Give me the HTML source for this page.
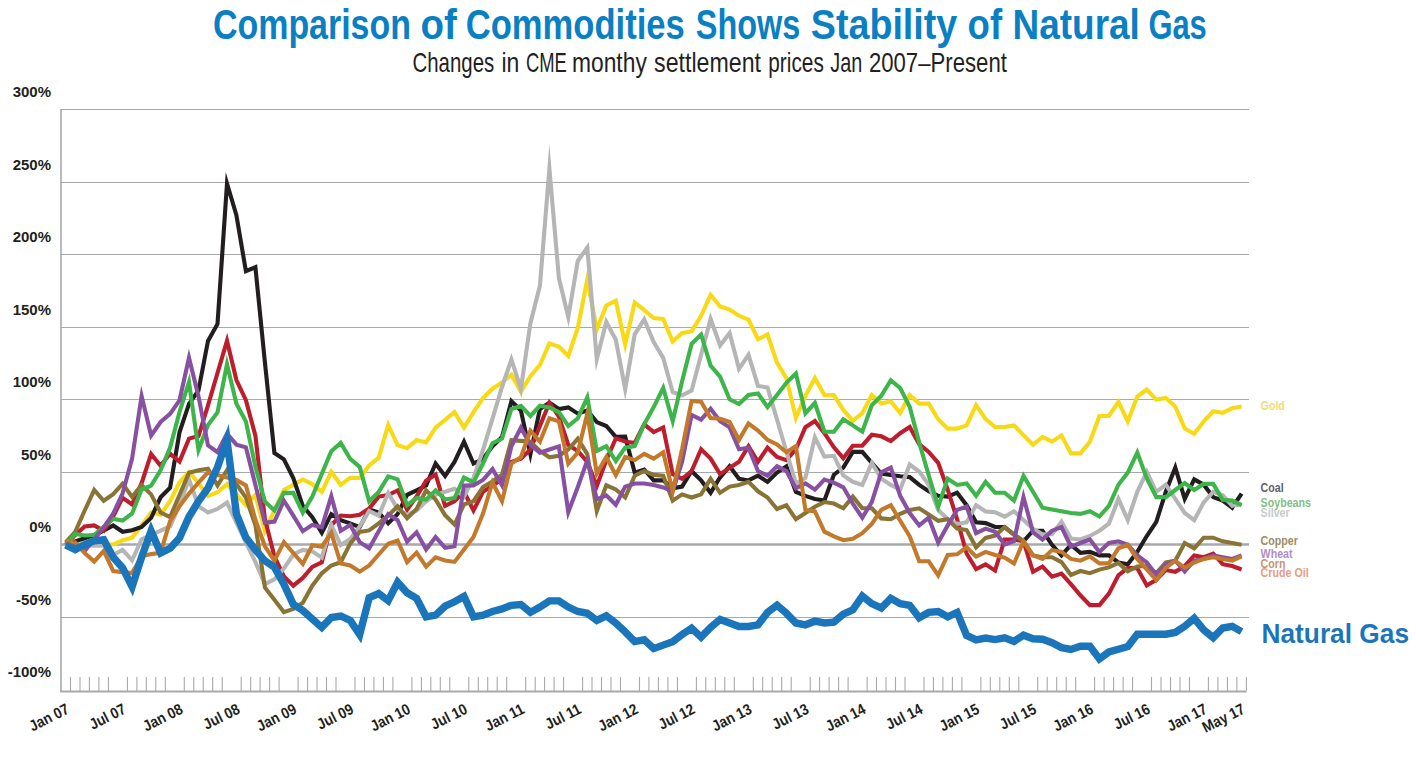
<!DOCTYPE html>
<html><head><meta charset="utf-8"><style>
html,body{margin:0;padding:0;background:#fff;width:1416px;height:764px;overflow:hidden}
svg{display:block}
.yl{font-family:"Liberation Sans",sans-serif;font-weight:bold;font-size:15px;fill:#231f20}
.xl{font-family:"Liberation Sans",sans-serif;font-weight:bold;font-size:15.5px;fill:#231f20}
.lg{font-family:"Liberation Sans",sans-serif;font-weight:bold;font-size:12px}
.t1{font-family:"Liberation Sans",sans-serif;font-weight:bold;font-size:42px;fill:#0a7fc3}
.t2{font-family:"Liberation Sans",sans-serif;font-size:28px;fill:#231f20}
.ng{font-family:"Liberation Sans",sans-serif;font-weight:bold;font-size:27.5px;fill:#1b75bb}
</style></head><body>
<svg width="1416" height="764" viewBox="0 0 1416 764">
<text x="213.0" y="38.7" class="t1" textLength="197.9" lengthAdjust="spacingAndGlyphs">Comparison</text><text x="420.5" y="38.7" class="t1" textLength="36.3" lengthAdjust="spacingAndGlyphs">of</text><text x="465.7" y="38.7" class="t1" textLength="219.1" lengthAdjust="spacingAndGlyphs">Commodities</text><text x="695.8" y="38.7" class="t1" textLength="104.6" lengthAdjust="spacingAndGlyphs">Shows</text><text x="810.8" y="38.7" class="t1" textLength="146.5" lengthAdjust="spacingAndGlyphs">Stability</text><text x="967.6" y="38.7" class="t1" textLength="34.5" lengthAdjust="spacingAndGlyphs">of</text><text x="1012.6" y="38.7" class="t1" textLength="127.2" lengthAdjust="spacingAndGlyphs">Natural</text><text x="1148.4" y="38.7" class="t1" textLength="58.4" lengthAdjust="spacingAndGlyphs">Gas</text>
<text x="412.5" y="71.5" class="t2" textLength="81.7" lengthAdjust="spacingAndGlyphs">Changes</text><text x="501.5" y="71.5" class="t2" textLength="17.9" lengthAdjust="spacingAndGlyphs">in</text><text x="526.0" y="71.5" class="t2" textLength="40.9" lengthAdjust="spacingAndGlyphs">CME</text><text x="572.0" y="71.5" class="t2" textLength="74.8" lengthAdjust="spacingAndGlyphs">monthy</text><text x="654.1" y="71.5" class="t2" textLength="106.9" lengthAdjust="spacingAndGlyphs">settlement</text><text x="768.3" y="71.5" class="t2" textLength="55.5" lengthAdjust="spacingAndGlyphs">prices</text><text x="830.3" y="71.5" class="t2" textLength="32.0" lengthAdjust="spacingAndGlyphs">Jan</text><text x="868.9" y="71.5" class="t2" textLength="138.0" lengthAdjust="spacingAndGlyphs">2007&#8211;Present</text>
<line x1="61" y1="109.5" x2="1249" y2="109.5" stroke="#a7a9ac" stroke-width="1.2"/><line x1="61" y1="182.5" x2="1249" y2="182.5" stroke="#a7a9ac" stroke-width="1.2"/><line x1="61" y1="254.5" x2="1249" y2="254.5" stroke="#a7a9ac" stroke-width="1.2"/><line x1="61" y1="327.5" x2="1249" y2="327.5" stroke="#a7a9ac" stroke-width="1.2"/><line x1="61" y1="399.5" x2="1249" y2="399.5" stroke="#a7a9ac" stroke-width="1.2"/><line x1="61" y1="472.5" x2="1249" y2="472.5" stroke="#a7a9ac" stroke-width="1.2"/><line x1="61" y1="617.5" x2="1249" y2="617.5" stroke="#a7a9ac" stroke-width="1.2"/>
<line x1="61" y1="544.5" x2="1249" y2="544.5" stroke="#a7a9ac" stroke-width="2.6"/>
<line x1="70.5" y1="677" x2="70.5" y2="691" stroke="#a7a9ac" stroke-width="1.1"/><line x1="80.0" y1="677" x2="80.0" y2="691" stroke="#a7a9ac" stroke-width="1.1"/><line x1="89.4" y1="677" x2="89.4" y2="691" stroke="#a7a9ac" stroke-width="1.1"/><line x1="98.9" y1="677" x2="98.9" y2="691" stroke="#a7a9ac" stroke-width="1.1"/><line x1="108.4" y1="677" x2="108.4" y2="691" stroke="#a7a9ac" stroke-width="1.1"/><line x1="127.4" y1="677" x2="127.4" y2="691" stroke="#a7a9ac" stroke-width="1.1"/><line x1="136.9" y1="677" x2="136.9" y2="691" stroke="#a7a9ac" stroke-width="1.1"/><line x1="146.3" y1="677" x2="146.3" y2="691" stroke="#a7a9ac" stroke-width="1.1"/><line x1="155.8" y1="677" x2="155.8" y2="691" stroke="#a7a9ac" stroke-width="1.1"/><line x1="165.3" y1="677" x2="165.3" y2="691" stroke="#a7a9ac" stroke-width="1.1"/><line x1="184.3" y1="677" x2="184.3" y2="691" stroke="#a7a9ac" stroke-width="1.1"/><line x1="193.8" y1="677" x2="193.8" y2="691" stroke="#a7a9ac" stroke-width="1.1"/><line x1="203.2" y1="677" x2="203.2" y2="691" stroke="#a7a9ac" stroke-width="1.1"/><line x1="212.7" y1="677" x2="212.7" y2="691" stroke="#a7a9ac" stroke-width="1.1"/><line x1="222.2" y1="677" x2="222.2" y2="691" stroke="#a7a9ac" stroke-width="1.1"/><line x1="241.2" y1="677" x2="241.2" y2="691" stroke="#a7a9ac" stroke-width="1.1"/><line x1="250.7" y1="677" x2="250.7" y2="691" stroke="#a7a9ac" stroke-width="1.1"/><line x1="260.1" y1="677" x2="260.1" y2="691" stroke="#a7a9ac" stroke-width="1.1"/><line x1="269.6" y1="677" x2="269.6" y2="691" stroke="#a7a9ac" stroke-width="1.1"/><line x1="279.1" y1="677" x2="279.1" y2="691" stroke="#a7a9ac" stroke-width="1.1"/><line x1="298.1" y1="677" x2="298.1" y2="691" stroke="#a7a9ac" stroke-width="1.1"/><line x1="307.6" y1="677" x2="307.6" y2="691" stroke="#a7a9ac" stroke-width="1.1"/><line x1="317.0" y1="677" x2="317.0" y2="691" stroke="#a7a9ac" stroke-width="1.1"/><line x1="326.5" y1="677" x2="326.5" y2="691" stroke="#a7a9ac" stroke-width="1.1"/><line x1="336.0" y1="677" x2="336.0" y2="691" stroke="#a7a9ac" stroke-width="1.1"/><line x1="355.0" y1="677" x2="355.0" y2="691" stroke="#a7a9ac" stroke-width="1.1"/><line x1="364.5" y1="677" x2="364.5" y2="691" stroke="#a7a9ac" stroke-width="1.1"/><line x1="373.9" y1="677" x2="373.9" y2="691" stroke="#a7a9ac" stroke-width="1.1"/><line x1="383.4" y1="677" x2="383.4" y2="691" stroke="#a7a9ac" stroke-width="1.1"/><line x1="392.9" y1="677" x2="392.9" y2="691" stroke="#a7a9ac" stroke-width="1.1"/><line x1="411.9" y1="677" x2="411.9" y2="691" stroke="#a7a9ac" stroke-width="1.1"/><line x1="421.4" y1="677" x2="421.4" y2="691" stroke="#a7a9ac" stroke-width="1.1"/><line x1="430.8" y1="677" x2="430.8" y2="691" stroke="#a7a9ac" stroke-width="1.1"/><line x1="440.3" y1="677" x2="440.3" y2="691" stroke="#a7a9ac" stroke-width="1.1"/><line x1="449.8" y1="677" x2="449.8" y2="691" stroke="#a7a9ac" stroke-width="1.1"/><line x1="468.8" y1="677" x2="468.8" y2="691" stroke="#a7a9ac" stroke-width="1.1"/><line x1="478.3" y1="677" x2="478.3" y2="691" stroke="#a7a9ac" stroke-width="1.1"/><line x1="487.7" y1="677" x2="487.7" y2="691" stroke="#a7a9ac" stroke-width="1.1"/><line x1="497.2" y1="677" x2="497.2" y2="691" stroke="#a7a9ac" stroke-width="1.1"/><line x1="506.7" y1="677" x2="506.7" y2="691" stroke="#a7a9ac" stroke-width="1.1"/><line x1="525.7" y1="677" x2="525.7" y2="691" stroke="#a7a9ac" stroke-width="1.1"/><line x1="535.2" y1="677" x2="535.2" y2="691" stroke="#a7a9ac" stroke-width="1.1"/><line x1="544.6" y1="677" x2="544.6" y2="691" stroke="#a7a9ac" stroke-width="1.1"/><line x1="554.1" y1="677" x2="554.1" y2="691" stroke="#a7a9ac" stroke-width="1.1"/><line x1="563.6" y1="677" x2="563.6" y2="691" stroke="#a7a9ac" stroke-width="1.1"/><line x1="582.6" y1="677" x2="582.6" y2="691" stroke="#a7a9ac" stroke-width="1.1"/><line x1="592.0" y1="677" x2="592.0" y2="691" stroke="#a7a9ac" stroke-width="1.1"/><line x1="601.5" y1="677" x2="601.5" y2="691" stroke="#a7a9ac" stroke-width="1.1"/><line x1="611.0" y1="677" x2="611.0" y2="691" stroke="#a7a9ac" stroke-width="1.1"/><line x1="620.5" y1="677" x2="620.5" y2="691" stroke="#a7a9ac" stroke-width="1.1"/><line x1="639.5" y1="677" x2="639.5" y2="691" stroke="#a7a9ac" stroke-width="1.1"/><line x1="648.9" y1="677" x2="648.9" y2="691" stroke="#a7a9ac" stroke-width="1.1"/><line x1="658.4" y1="677" x2="658.4" y2="691" stroke="#a7a9ac" stroke-width="1.1"/><line x1="667.9" y1="677" x2="667.9" y2="691" stroke="#a7a9ac" stroke-width="1.1"/><line x1="677.4" y1="677" x2="677.4" y2="691" stroke="#a7a9ac" stroke-width="1.1"/><line x1="696.4" y1="677" x2="696.4" y2="691" stroke="#a7a9ac" stroke-width="1.1"/><line x1="705.8" y1="677" x2="705.8" y2="691" stroke="#a7a9ac" stroke-width="1.1"/><line x1="715.3" y1="677" x2="715.3" y2="691" stroke="#a7a9ac" stroke-width="1.1"/><line x1="724.8" y1="677" x2="724.8" y2="691" stroke="#a7a9ac" stroke-width="1.1"/><line x1="734.3" y1="677" x2="734.3" y2="691" stroke="#a7a9ac" stroke-width="1.1"/><line x1="753.3" y1="677" x2="753.3" y2="691" stroke="#a7a9ac" stroke-width="1.1"/><line x1="762.7" y1="677" x2="762.7" y2="691" stroke="#a7a9ac" stroke-width="1.1"/><line x1="772.2" y1="677" x2="772.2" y2="691" stroke="#a7a9ac" stroke-width="1.1"/><line x1="781.7" y1="677" x2="781.7" y2="691" stroke="#a7a9ac" stroke-width="1.1"/><line x1="791.2" y1="677" x2="791.2" y2="691" stroke="#a7a9ac" stroke-width="1.1"/><line x1="810.2" y1="677" x2="810.2" y2="691" stroke="#a7a9ac" stroke-width="1.1"/><line x1="819.6" y1="677" x2="819.6" y2="691" stroke="#a7a9ac" stroke-width="1.1"/><line x1="829.1" y1="677" x2="829.1" y2="691" stroke="#a7a9ac" stroke-width="1.1"/><line x1="838.6" y1="677" x2="838.6" y2="691" stroke="#a7a9ac" stroke-width="1.1"/><line x1="848.1" y1="677" x2="848.1" y2="691" stroke="#a7a9ac" stroke-width="1.1"/><line x1="867.1" y1="677" x2="867.1" y2="691" stroke="#a7a9ac" stroke-width="1.1"/><line x1="876.5" y1="677" x2="876.5" y2="691" stroke="#a7a9ac" stroke-width="1.1"/><line x1="886.0" y1="677" x2="886.0" y2="691" stroke="#a7a9ac" stroke-width="1.1"/><line x1="895.5" y1="677" x2="895.5" y2="691" stroke="#a7a9ac" stroke-width="1.1"/><line x1="905.0" y1="677" x2="905.0" y2="691" stroke="#a7a9ac" stroke-width="1.1"/><line x1="924.0" y1="677" x2="924.0" y2="691" stroke="#a7a9ac" stroke-width="1.1"/><line x1="933.4" y1="677" x2="933.4" y2="691" stroke="#a7a9ac" stroke-width="1.1"/><line x1="942.9" y1="677" x2="942.9" y2="691" stroke="#a7a9ac" stroke-width="1.1"/><line x1="952.4" y1="677" x2="952.4" y2="691" stroke="#a7a9ac" stroke-width="1.1"/><line x1="961.9" y1="677" x2="961.9" y2="691" stroke="#a7a9ac" stroke-width="1.1"/><line x1="980.9" y1="677" x2="980.9" y2="691" stroke="#a7a9ac" stroke-width="1.1"/><line x1="990.3" y1="677" x2="990.3" y2="691" stroke="#a7a9ac" stroke-width="1.1"/><line x1="999.8" y1="677" x2="999.8" y2="691" stroke="#a7a9ac" stroke-width="1.1"/><line x1="1009.3" y1="677" x2="1009.3" y2="691" stroke="#a7a9ac" stroke-width="1.1"/><line x1="1018.8" y1="677" x2="1018.8" y2="691" stroke="#a7a9ac" stroke-width="1.1"/><line x1="1037.7" y1="677" x2="1037.7" y2="691" stroke="#a7a9ac" stroke-width="1.1"/><line x1="1047.2" y1="677" x2="1047.2" y2="691" stroke="#a7a9ac" stroke-width="1.1"/><line x1="1056.7" y1="677" x2="1056.7" y2="691" stroke="#a7a9ac" stroke-width="1.1"/><line x1="1066.2" y1="677" x2="1066.2" y2="691" stroke="#a7a9ac" stroke-width="1.1"/><line x1="1075.7" y1="677" x2="1075.7" y2="691" stroke="#a7a9ac" stroke-width="1.1"/><line x1="1094.6" y1="677" x2="1094.6" y2="691" stroke="#a7a9ac" stroke-width="1.1"/><line x1="1104.1" y1="677" x2="1104.1" y2="691" stroke="#a7a9ac" stroke-width="1.1"/><line x1="1113.6" y1="677" x2="1113.6" y2="691" stroke="#a7a9ac" stroke-width="1.1"/><line x1="1123.1" y1="677" x2="1123.1" y2="691" stroke="#a7a9ac" stroke-width="1.1"/><line x1="1132.6" y1="677" x2="1132.6" y2="691" stroke="#a7a9ac" stroke-width="1.1"/><line x1="1151.5" y1="677" x2="1151.5" y2="691" stroke="#a7a9ac" stroke-width="1.1"/><line x1="1161.0" y1="677" x2="1161.0" y2="691" stroke="#a7a9ac" stroke-width="1.1"/><line x1="1170.5" y1="677" x2="1170.5" y2="691" stroke="#a7a9ac" stroke-width="1.1"/><line x1="1180.0" y1="677" x2="1180.0" y2="691" stroke="#a7a9ac" stroke-width="1.1"/><line x1="1189.5" y1="677" x2="1189.5" y2="691" stroke="#a7a9ac" stroke-width="1.1"/><line x1="1208.4" y1="677" x2="1208.4" y2="691" stroke="#a7a9ac" stroke-width="1.1"/><line x1="1217.9" y1="677" x2="1217.9" y2="691" stroke="#a7a9ac" stroke-width="1.1"/><line x1="1227.4" y1="677" x2="1227.4" y2="691" stroke="#a7a9ac" stroke-width="1.1"/><line x1="1236.9" y1="677" x2="1236.9" y2="691" stroke="#a7a9ac" stroke-width="1.1"/><line x1="1246.4" y1="677" x2="1246.4" y2="691" stroke="#a7a9ac" stroke-width="1.1"/>
<line x1="61" y1="109" x2="61" y2="692" stroke="#a7a9ac" stroke-width="1.6"/>
<line x1="60.2" y1="691.5" x2="1246.5" y2="691.5" stroke="#a7a9ac" stroke-width="1.8"/>
<polyline points="65.7,544.5 75.2,544.5 84.7,544.5 94.2,544.5 103.7,544.5 113.2,544.5 122.6,540.3 132.1,537.6 141.6,525.4 151.1,512.6 160.6,514.7 170.1,501.1 179.5,482.4 189.0,472.0 198.5,483.0 208.0,496.1 217.5,492.2 227.0,484.2 236.4,494.5 245.9,505.1 255.4,495.0 264.9,531.0 274.4,510.4 283.9,489.9 293.3,484.7 302.8,479.5 312.3,484.1 321.8,491.9 331.3,471.8 340.7,484.8 350.2,477.9 359.7,477.9 369.2,465.4 378.7,457.7 388.2,425.0 397.6,445.1 407.1,448.1 416.6,440.1 426.1,442.4 435.6,427.6 445.1,419.9 454.5,412.1 464.0,427.6 473.5,412.1 483.0,398.0 492.5,388.7 502.0,382.5 511.4,374.7 520.9,391.8 530.4,376.2 539.9,365.0 549.4,343.5 558.9,346.6 568.3,355.9 577.8,327.9 587.3,279.6 596.8,329.5 606.3,305.5 615.8,300.8 625.2,344.5 634.7,302.4 644.2,310.2 653.7,318.0 663.2,319.0 672.7,341.5 682.1,333.0 691.6,331.4 701.1,315.8 710.6,294.8 720.1,306.5 729.6,309.6 739.0,315.8 748.5,319.7 758.0,339.2 767.5,334.5 777.0,362.6 786.4,378.2 795.9,418.0 805.4,395.8 814.9,378.0 824.4,395.1 833.9,395.1 843.3,409.9 852.8,420.8 862.3,413.0 871.8,395.1 881.3,403.6 890.8,401.3 900.2,413.0 909.7,395.1 919.2,403.6 928.7,403.6 938.2,419.2 947.7,428.6 957.1,428.6 966.6,425.4 976.1,405.2 985.6,419.2 995.1,427.0 1004.6,427.0 1014.0,425.4 1023.5,435.1 1033.0,444.8 1042.5,437.0 1052.0,441.7 1061.5,435.4 1070.9,453.4 1080.4,453.4 1089.9,441.7 1099.4,416.0 1108.9,416.0 1118.4,401.9 1127.8,421.4 1137.3,396.5 1146.8,389.5 1156.3,399.6 1165.8,398.0 1175.3,406.6 1184.7,428.4 1194.2,433.9 1203.7,421.4 1213.2,411.3 1222.7,412.8 1232.2,408.2 1241.6,406.6" fill="none" stroke="#f8d916" stroke-width="4.1" stroke-linejoin="miter" stroke-miterlimit="40"/><polyline points="65.7,544.5 75.2,541.4 84.7,538.2 94.2,535.0 103.7,530.7 113.2,525.5 122.6,531.8 132.1,530.2 141.6,527.0 151.1,517.9 160.6,497.3 170.1,487.7 179.5,432.3 189.0,403.9 198.5,390.5 208.0,340.9 217.5,324.0 227.0,183.5 236.4,215.2 245.9,271.2 255.4,267.2 264.9,362.2 274.4,453.0 283.9,459.3 293.3,478.0 302.8,506.0 312.3,517.1 321.8,532.7 331.3,514.1 340.7,520.2 350.2,523.4 359.7,527.2 369.2,509.4 378.7,512.5 388.2,523.3 397.6,514.1 407.1,494.9 416.6,490.3 426.1,485.6 435.6,463.5 445.1,475.9 454.5,461.9 464.0,441.7 473.5,463.5 483.0,458.8 492.5,446.3 502.0,437.0 511.4,401.2 520.9,410.5 530.4,454.1 539.9,409.0 549.4,402.7 558.9,409.0 568.3,407.4 577.8,413.6 587.3,410.5 596.8,422.1 606.3,426.0 615.8,436.9 625.2,436.7 634.7,472.6 644.2,469.5 653.7,480.4 663.2,480.4 672.7,488.2 682.1,486.6 691.6,471.0 701.1,480.4 710.6,492.8 720.1,477.3 729.6,466.3 739.0,478.8 748.5,480.4 758.0,475.7 767.5,481.9 777.0,472.6 786.4,466.3 795.9,492.0 805.4,495.9 814.9,499.0 824.4,500.5 833.9,474.7 843.3,467.6 852.8,451.9 862.3,451.9 871.8,462.8 881.3,473.5 890.8,475.0 900.2,476.2 909.7,477.1 919.2,484.9 928.7,491.2 938.2,495.8 947.7,496.6 957.1,492.7 966.6,505.2 976.1,522.3 985.6,523.1 995.1,527.0 1004.6,527.1 1014.0,534.5 1023.5,541.3 1033.0,530.7 1042.5,530.7 1052.0,544.8 1061.5,555.4 1070.9,544.8 1080.4,552.8 1089.9,551.9 1099.4,555.4 1108.9,555.4 1118.4,562.5 1127.8,564.2 1137.3,551.9 1146.8,536.0 1156.3,521.8 1165.8,491.8 1175.3,467.6 1184.7,498.9 1194.2,479.4 1203.7,484.7 1213.2,497.1 1222.7,500.6 1232.2,507.7 1241.6,493.6" fill="none" stroke="#221e1f" stroke-width="4.1" stroke-linejoin="miter" stroke-miterlimit="40"/><polyline points="65.7,544.5 75.2,535.0 84.7,526.5 94.2,525.4 103.7,530.7 113.2,516.5 122.6,497.7 132.1,504.4 141.6,483.2 151.1,453.9 160.6,465.7 170.1,453.6 179.5,461.6 189.0,438.6 198.5,436.0 208.0,405.3 217.5,373.0 227.0,340.8 236.4,380.1 245.9,400.1 255.4,435.7 264.9,519.1 274.4,556.3 283.9,576.4 293.3,585.7 302.8,577.9 312.3,567.0 321.8,562.3 331.3,525.1 340.7,515.5 350.2,516.2 359.7,514.7 369.2,508.4 378.7,496.6 388.2,495.0 397.6,490.4 407.1,509.7 416.6,496.5 426.1,480.8 435.6,474.5 445.1,505.8 454.5,501.2 464.0,491.8 473.5,510.5 483.0,491.8 492.5,485.6 502.0,479.3 511.4,461.9 520.9,458.8 530.4,449.5 539.9,426.1 549.4,402.7 558.9,416.7 568.3,444.8 577.8,451.0 587.3,461.9 596.8,485.9 606.3,460.2 615.8,438.4 625.2,441.4 634.7,443.0 644.2,424.3 653.7,432.1 663.2,427.4 672.7,474.1 682.1,478.8 691.6,471.0 701.1,449.2 710.6,458.6 720.1,474.1 729.6,467.9 739.0,461.7 748.5,446.1 758.0,461.7 767.5,447.7 777.0,457.0 786.4,460.1 795.9,449.2 805.4,427.2 814.9,421.0 824.4,433.2 833.9,447.3 843.3,458.2 852.8,445.7 862.3,445.7 871.8,434.8 881.3,436.3 890.8,441.0 900.2,433.2 909.7,427.0 919.2,444.1 928.7,451.9 938.2,462.8 947.7,489.6 957.1,519.2 966.6,553.5 976.1,569.1 985.6,564.4 995.1,570.6 1004.6,539.5 1014.0,539.5 1023.5,541.3 1033.0,571.8 1042.5,566.5 1052.0,576.7 1061.5,573.6 1070.9,584.2 1080.4,595.3 1089.9,605.1 1099.4,605.1 1108.9,593.6 1118.4,575.4 1127.8,567.9 1137.3,568.3 1146.8,585.5 1156.3,579.8 1165.8,570.1 1175.3,571.8 1184.7,566.1 1194.2,555.4 1203.7,557.2 1213.2,553.6 1222.7,564.2 1232.2,566.0 1241.6,569.5" fill="none" stroke="#bd1d2c" stroke-width="4.1" stroke-linejoin="miter" stroke-miterlimit="40"/><polyline points="65.7,544.5 75.2,545.6 84.7,545.6 94.2,545.6 103.7,545.6 113.2,555.1 122.6,549.8 132.1,560.3 141.6,539.2 151.1,535.0 160.6,530.7 170.1,526.4 179.5,504.9 189.0,479.3 198.5,506.2 208.0,512.5 217.5,509.0 227.0,502.6 236.4,522.5 245.9,542.4 255.4,562.2 264.9,584.1 274.4,579.4 283.9,568.5 293.3,554.5 302.8,549.9 312.3,551.4 321.8,557.6 331.3,525.1 340.7,545.0 350.2,538.9 359.7,526.4 369.2,510.9 378.7,515.6 388.2,493.0 397.6,509.1 407.1,515.2 416.6,510.5 426.1,501.2 435.6,494.9 445.1,491.8 454.5,488.7 464.0,496.5 473.5,478.0 483.0,450.0 492.5,418.6 502.0,387.0 511.4,359.6 520.9,389.0 530.4,323.2 539.9,285.8 549.4,168.5 558.9,278.1 568.3,317.0 577.8,260.9 587.3,247.5 596.8,359.1 606.3,321.9 615.8,339.8 625.2,389.1 634.7,334.3 644.2,319.5 653.7,342.1 663.2,357.9 672.7,392.2 682.1,395.3 691.6,390.6 701.1,354.8 710.6,319.0 720.1,345.4 729.6,333.0 739.0,368.8 748.5,354.8 758.0,385.9 767.5,387.5 777.0,419.5 786.4,451.5 795.9,483.5 805.4,478.0 814.9,437.3 824.4,456.6 833.9,455.8 843.3,475.4 852.8,481.8 862.3,484.9 871.8,463.0 881.3,478.7 890.8,484.9 900.2,489.6 909.7,464.5 919.2,471.5 928.7,484.9 938.2,509.9 947.7,519.2 957.1,523.9 966.6,522.3 976.1,505.2 985.6,511.4 995.1,512.2 1004.6,516.7 1014.0,511.3 1023.5,520.1 1033.0,528.9 1042.5,534.2 1052.0,534.2 1061.5,521.8 1070.9,538.6 1080.4,539.5 1089.9,536.0 1099.4,530.7 1108.9,523.6 1118.4,498.9 1127.8,520.1 1137.3,491.8 1146.8,471.8 1156.3,491.8 1165.8,484.7 1175.3,498.9 1184.7,513.0 1194.2,520.1 1203.7,502.4 1213.2,491.8 1222.7,495.3 1232.2,505.9 1241.6,504.2" fill="none" stroke="#b5b5b6" stroke-width="4.1" stroke-linejoin="miter" stroke-miterlimit="40"/><polyline points="65.7,542.4 75.2,531.8 84.7,510.5 94.2,489.9 103.7,500.8 113.2,494.1 122.6,483.7 132.1,496.9 141.6,485.0 151.1,494.4 160.6,512.5 170.1,517.1 179.5,495.0 189.0,472.8 198.5,470.2 208.0,468.8 217.5,485.4 227.0,470.2 236.4,484.0 245.9,497.7 255.4,525.2 264.9,587.4 274.4,599.8 283.9,612.2 293.3,609.0 302.8,602.8 312.3,585.7 321.8,573.3 331.3,565.5 340.7,562.3 350.2,543.6 359.7,531.9 369.2,530.4 378.7,523.4 388.2,515.6 397.6,506.3 407.1,518.3 416.6,508.9 426.1,490.3 435.6,499.6 445.1,515.2 454.5,524.5 464.0,504.3 473.5,501.2 483.0,487.1 492.5,481.5 502.0,474.7 511.4,440.1 520.9,440.9 530.4,441.7 539.9,451.0 549.4,457.3 558.9,455.7 568.3,449.5 577.8,438.6 587.3,454.1 596.8,511.0 606.3,485.3 615.8,489.5 625.2,497.5 634.7,475.7 644.2,471.0 653.7,474.9 663.2,475.7 672.7,500.6 682.1,494.4 691.6,497.5 701.1,494.4 710.6,478.8 720.1,492.8 729.6,486.6 739.0,485.0 748.5,481.9 758.0,491.3 767.5,497.5 777.0,509.0 786.4,505.3 795.9,519.2 805.4,513.0 814.9,506.7 824.4,502.1 833.9,503.6 843.3,508.3 852.8,496.6 862.3,508.3 871.8,508.3 881.3,518.4 890.8,519.2 900.2,513.8 909.7,509.9 919.2,508.3 928.7,514.5 938.2,520.8 947.7,519.2 957.1,528.6 966.6,530.1 976.1,547.3 985.6,537.9 995.1,535.6 1004.6,527.1 1014.0,534.5 1023.5,541.3 1033.0,555.4 1042.5,557.2 1052.0,557.2 1061.5,562.1 1070.9,574.9 1080.4,571.0 1089.9,573.2 1099.4,569.6 1108.9,567.4 1118.4,563.0 1127.8,571.4 1137.3,566.5 1146.8,566.0 1156.3,573.1 1165.8,562.5 1175.3,560.7 1184.7,543.0 1194.2,548.3 1203.7,537.7 1213.2,537.7 1222.7,541.3 1232.2,543.0 1241.6,544.8" fill="none" stroke="#8a7435" stroke-width="4.1" stroke-linejoin="miter" stroke-miterlimit="40"/><polyline points="65.7,544.5 75.2,533.9 84.7,535.5 94.2,535.0 103.7,526.7 113.2,518.9 122.6,520.6 132.1,513.4 141.6,489.6 151.1,485.6 160.6,470.3 170.1,447.5 179.5,412.1 189.0,382.0 198.5,450.0 208.0,424.9 217.5,412.5 227.0,364.1 236.4,403.7 245.9,421.5 255.4,466.8 264.9,501.6 274.4,510.4 283.9,492.9 293.3,492.8 302.8,512.7 312.3,496.6 321.8,473.7 331.3,451.2 340.7,442.9 350.2,458.8 359.7,466.9 369.2,501.3 378.7,491.9 388.2,476.4 397.6,479.4 407.1,505.1 416.6,498.0 426.1,499.6 435.6,490.3 445.1,499.6 454.5,498.0 464.0,477.6 473.5,482.3 483.0,463.5 492.5,443.2 502.0,438.6 511.4,409.0 520.9,405.8 530.4,416.0 539.9,405.8 549.4,407.4 558.9,412.1 568.3,426.1 577.8,418.3 587.3,397.3 596.8,450.9 606.3,446.2 615.8,461.0 625.2,447.6 634.7,446.1 644.2,424.3 653.7,407.1 663.2,388.0 672.7,421.2 682.1,381.3 691.6,343.9 701.1,334.5 710.6,365.7 720.1,376.6 729.6,399.3 739.0,404.0 748.5,395.0 758.0,393.4 767.5,407.1 777.0,395.0 786.4,382.8 795.9,373.5 805.4,413.2 814.9,403.0 824.4,431.7 833.9,431.7 843.3,419.2 852.8,425.4 862.3,431.7 871.8,405.2 881.3,395.8 890.8,380.3 900.2,388.0 909.7,406.7 919.2,442.6 928.7,475.3 938.2,506.7 947.7,478.7 957.1,484.9 966.6,483.4 976.1,495.8 985.6,481.8 995.1,492.7 1004.6,492.7 1014.0,500.6 1023.5,475.9 1033.0,491.8 1042.5,507.7 1052.0,509.5 1061.5,511.2 1070.9,513.0 1080.4,513.9 1089.9,511.2 1099.4,516.5 1108.9,505.9 1118.4,484.7 1127.8,472.6 1137.3,452.6 1146.8,478.4 1156.3,497.1 1165.8,497.1 1175.3,490.0 1184.7,483.0 1194.2,490.0 1203.7,483.9 1213.2,483.9 1222.7,499.8 1232.2,500.6 1241.6,505.1" fill="none" stroke="#3db54a" stroke-width="4.1" stroke-linejoin="miter" stroke-miterlimit="40"/><polyline points="65.7,544.5 75.2,544.5 84.7,550.9 94.2,539.3 103.7,527.5 113.2,513.6 122.6,493.4 132.1,458.6 141.6,396.1 151.1,435.6 160.6,422.0 170.1,413.8 179.5,400.3 189.0,357.8 198.5,396.4 208.0,445.3 217.5,452.2 227.0,433.6 236.4,444.6 245.9,447.3 255.4,485.0 264.9,522.7 274.4,521.6 283.9,500.7 293.3,515.6 302.8,531.2 312.3,524.9 321.8,527.3 331.3,496.1 340.7,530.9 350.2,525.0 359.7,542.1 369.2,548.3 378.7,531.2 388.2,514.1 397.6,520.2 407.1,541.8 416.6,532.3 426.1,549.5 435.6,537.0 445.1,547.9 454.5,546.3 464.0,485.6 473.5,485.4 483.0,480.0 492.5,469.1 502.0,485.4 511.4,446.3 520.9,427.7 530.4,444.8 539.9,452.6 549.4,449.5 558.9,446.4 568.3,512.1 577.8,487.1 587.3,460.4 596.8,499.3 606.3,495.4 615.8,504.8 625.2,486.6 634.7,483.5 644.2,483.5 653.7,485.0 663.2,487.4 672.7,491.3 682.1,461.7 691.6,414.9 701.1,419.6 710.6,408.7 720.1,421.2 729.6,427.4 739.0,449.2 748.5,447.7 758.0,471.0 767.5,475.7 777.0,466.3 786.4,471.0 795.9,488.2 805.4,483.4 814.9,489.7 824.4,479.5 833.9,482.6 843.3,487.3 852.8,503.6 862.3,517.6 871.8,502.1 881.3,472.3 890.8,467.7 900.2,495.8 909.7,513.0 919.2,525.4 928.7,517.7 938.2,542.6 947.7,525.4 957.1,509.9 966.6,506.7 976.1,533.2 985.6,528.6 995.1,531.7 1004.6,544.5 1014.0,541.1 1023.5,497.1 1033.0,532.4 1042.5,539.5 1052.0,530.7 1061.5,527.1 1070.9,546.6 1080.4,543.0 1089.9,539.5 1099.4,551.9 1108.9,543.0 1118.4,541.3 1127.8,544.8 1137.3,555.4 1146.8,562.5 1156.3,574.8 1165.8,564.2 1175.3,560.7 1184.7,571.3 1194.2,560.7 1203.7,558.9 1213.2,555.4 1222.7,557.2 1232.2,558.9 1241.6,555.4" fill="none" stroke="#8750a1" stroke-width="4.1" stroke-linejoin="miter" stroke-miterlimit="40"/><polyline points="65.7,541.3 75.2,542.4 84.7,553.0 94.2,561.5 103.7,550.9 113.2,571.0 122.6,572.1 132.1,573.0 141.6,556.2 151.1,554.1 160.6,552.7 170.1,521.1 179.5,506.4 189.0,493.6 198.5,482.6 208.0,472.4 217.5,474.9 227.0,477.4 236.4,479.9 245.9,485.4 255.4,519.7 264.9,546.3 274.4,560.6 283.9,542.1 293.3,553.0 302.8,563.9 312.3,545.2 321.8,546.7 331.3,532.8 340.7,563.6 350.2,565.5 359.7,571.6 369.2,565.4 378.7,554.5 388.2,543.7 397.6,540.5 407.1,562.1 416.6,552.6 426.1,566.6 435.6,557.3 445.1,560.4 454.5,561.9 464.0,549.5 473.5,537.0 483.0,513.6 492.5,482.5 502.0,501.2 511.4,463.5 520.9,457.2 530.4,430.8 539.9,441.7 549.4,418.3 558.9,421.4 568.3,463.5 577.8,452.6 587.3,413.6 596.8,473.5 606.3,457.1 615.8,475.0 625.2,457.0 634.7,460.1 644.2,453.9 653.7,458.6 663.2,452.3 672.7,491.3 682.1,449.2 691.6,400.9 701.1,401.7 710.6,418.0 720.1,418.8 729.6,421.9 739.0,439.9 748.5,423.5 758.0,430.5 767.5,439.9 777.0,444.5 786.4,452.3 795.9,446.1 805.4,509.9 814.9,511.4 824.4,531.7 833.9,536.3 843.3,540.2 852.8,538.7 862.3,533.2 871.8,523.9 881.3,509.9 890.8,505.2 900.2,520.8 909.7,536.3 919.2,561.3 928.7,561.3 938.2,575.3 947.7,555.0 957.1,554.3 966.6,547.3 976.1,556.6 985.6,551.9 995.1,555.0 1004.6,557.6 1014.0,563.5 1023.5,541.3 1033.0,555.4 1042.5,558.9 1052.0,550.1 1061.5,551.9 1070.9,558.9 1080.4,560.7 1089.9,556.3 1099.4,563.4 1108.9,563.4 1118.4,548.3 1127.8,544.8 1137.3,558.9 1146.8,569.5 1156.3,580.1 1165.8,567.8 1175.3,560.7 1184.7,567.8 1194.2,562.5 1203.7,558.9 1213.2,557.2 1222.7,558.9 1232.2,560.7 1241.6,556.3" fill="none" stroke="#c3792c" stroke-width="4.1" stroke-linejoin="miter" stroke-miterlimit="40"/><polyline points="65.7,545.0 75.2,549.5 84.7,544.5 94.2,540.8 103.7,539.8 113.2,557.3 122.6,567.9 132.1,586.8 141.6,557.1 151.1,531.0 160.6,553.0 170.1,548.2 179.5,538.0 189.0,516.8 198.5,501.2 208.0,488.1 217.5,467.2 227.0,440.0 236.4,514.0 245.9,537.6 255.4,549.8 264.9,560.8 274.4,567.1 283.9,584.3 293.3,604.4 302.8,610.5 312.3,619.0 321.8,627.4 331.3,617.5 340.7,616.0 350.2,620.4 359.7,634.5 369.2,597.7 378.7,593.5 388.2,600.6 397.6,582.2 407.1,592.8 416.6,598.3 426.1,616.8 435.6,615.1 445.1,606.2 454.5,601.8 464.0,596.5 473.5,616.8 483.0,615.1 492.5,611.5 502.0,608.9 511.4,605.3 520.9,604.5 530.4,612.4 539.9,607.1 549.4,600.9 558.9,600.9 568.3,607.1 577.8,611.5 587.3,613.3 596.8,620.4 606.3,615.9 615.8,623.0 625.2,631.8 634.7,641.6 644.2,639.8 653.7,648.6 663.2,645.1 672.7,641.6 682.1,634.5 691.6,628.3 701.1,637.1 710.6,627.4 720.1,619.5 729.6,623.0 739.0,626.5 748.5,626.5 758.0,624.8 767.5,612.4 777.0,605.3 786.4,613.3 795.9,623.0 805.4,624.8 814.9,621.2 824.4,623.0 833.9,622.1 843.3,614.2 852.8,609.8 862.3,596.1 871.8,603.6 881.3,608.0 890.8,598.3 900.2,603.6 909.7,605.3 919.2,617.7 928.7,612.4 938.2,611.5 947.7,616.8 957.1,612.4 966.6,635.4 976.1,639.8 985.6,638.0 995.1,639.6 1004.6,637.9 1014.0,641.4 1023.5,635.2 1033.0,638.8 1042.5,639.2 1052.0,642.7 1061.5,647.6 1070.9,649.4 1080.4,646.3 1089.9,646.3 1099.4,658.9 1108.9,651.9 1118.4,649.2 1127.8,646.6 1137.3,634.2 1146.8,634.2 1156.3,634.2 1165.8,634.2 1175.3,632.4 1184.7,626.3 1194.2,618.3 1203.7,629.8 1213.2,637.7 1222.7,628.0 1232.2,626.3 1241.6,631.6" fill="none" stroke="#1a75bb" stroke-width="7.4" stroke-linejoin="miter" stroke-miterlimit="40"/>
<text x="51" y="97.2" text-anchor="end" class="yl">300%</text><text x="51" y="169.7" text-anchor="end" class="yl">250%</text><text x="51" y="242.2" text-anchor="end" class="yl">200%</text><text x="51" y="314.7" text-anchor="end" class="yl">150%</text><text x="51" y="387.2" text-anchor="end" class="yl">100%</text><text x="51" y="459.7" text-anchor="end" class="yl">50%</text><text x="51" y="532.2" text-anchor="end" class="yl">0%</text><text x="51" y="604.7" text-anchor="end" class="yl">-50%</text><text x="51" y="677.2" text-anchor="end" class="yl">-100%</text>
<text transform="translate(70.2,712.5) rotate(-27) scale(0.88,1)" text-anchor="end" class="xl">Jan 07</text><text transform="translate(127.1,712.5) rotate(-27) scale(0.88,1)" text-anchor="end" class="xl">Jul 07</text><text transform="translate(184.0,712.5) rotate(-27) scale(0.88,1)" text-anchor="end" class="xl">Jan 08</text><text transform="translate(240.9,712.5) rotate(-27) scale(0.88,1)" text-anchor="end" class="xl">Jul 08</text><text transform="translate(297.8,712.5) rotate(-27) scale(0.88,1)" text-anchor="end" class="xl">Jan 09</text><text transform="translate(354.7,712.5) rotate(-27) scale(0.88,1)" text-anchor="end" class="xl">Jul 09</text><text transform="translate(411.6,712.5) rotate(-27) scale(0.88,1)" text-anchor="end" class="xl">Jan 10</text><text transform="translate(468.5,712.5) rotate(-27) scale(0.88,1)" text-anchor="end" class="xl">Jul 10</text><text transform="translate(525.4,712.5) rotate(-27) scale(0.88,1)" text-anchor="end" class="xl">Jan 11</text><text transform="translate(582.3,712.5) rotate(-27) scale(0.88,1)" text-anchor="end" class="xl">Jul 11</text><text transform="translate(639.2,712.5) rotate(-27) scale(0.88,1)" text-anchor="end" class="xl">Jan 12</text><text transform="translate(696.1,712.5) rotate(-27) scale(0.88,1)" text-anchor="end" class="xl">Jul 12</text><text transform="translate(753.0,712.5) rotate(-27) scale(0.88,1)" text-anchor="end" class="xl">Jan 13</text><text transform="translate(809.9,712.5) rotate(-27) scale(0.88,1)" text-anchor="end" class="xl">Jul 13</text><text transform="translate(866.8,712.5) rotate(-27) scale(0.88,1)" text-anchor="end" class="xl">Jan 14</text><text transform="translate(923.7,712.5) rotate(-27) scale(0.88,1)" text-anchor="end" class="xl">Jul 14</text><text transform="translate(980.6,712.5) rotate(-27) scale(0.88,1)" text-anchor="end" class="xl">Jan 15</text><text transform="translate(1037.5,712.5) rotate(-27) scale(0.88,1)" text-anchor="end" class="xl">Jul 15</text><text transform="translate(1094.4,712.5) rotate(-27) scale(0.88,1)" text-anchor="end" class="xl">Jan 16</text><text transform="translate(1151.3,712.5) rotate(-27) scale(0.88,1)" text-anchor="end" class="xl">Jul 16</text><text transform="translate(1208.2,712.5) rotate(-27) scale(0.88,1)" text-anchor="end" class="xl">Jan 17</text><text transform="translate(1246.1,712.5) rotate(-27) scale(0.88,1)" text-anchor="end" class="xl">May 17</text>
<text transform="translate(1260.6,410.4) scale(0.89,1)" class="lg" fill="#f3dd72">Gold</text><text transform="translate(1260.6,491.6) scale(0.89,1)" class="lg" fill="#5f6068">Coal</text><text transform="translate(1260.6,507) scale(0.89,1)" class="lg" fill="#80bf84">Soybeans</text><text transform="translate(1260.6,517) scale(0.89,1)" class="lg" fill="#c9cacb">Silver</text><text transform="translate(1260.6,545) scale(0.89,1)" class="lg" fill="#9c8c62">Copper</text><text transform="translate(1260.6,558) scale(0.89,1)" class="lg" fill="#b08fc4">Wheat</text><text transform="translate(1260.6,567.7) scale(0.89,1)" class="lg" fill="#c4956a">Corn</text><text transform="translate(1260.6,577) scale(0.89,1)" class="lg" fill="#e59d84">Crude Oil</text>
<text x="1261.5" y="642.6" class="ng" textLength="147.5" lengthAdjust="spacingAndGlyphs">Natural Gas</text>
</svg>
</body></html>
